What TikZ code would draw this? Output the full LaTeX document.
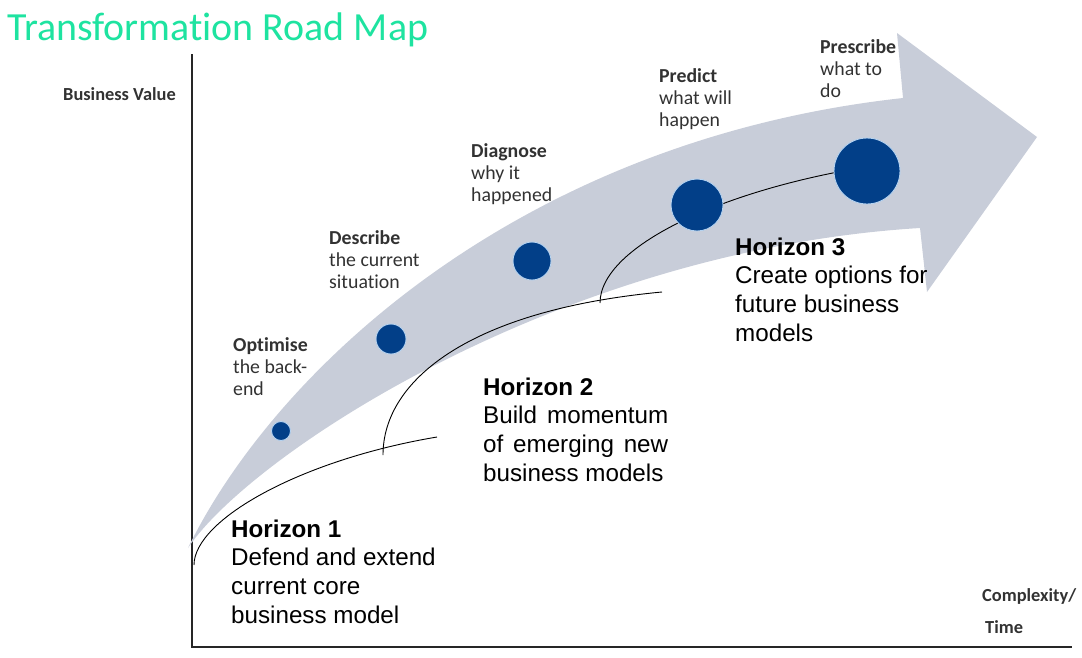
\documentclass[tikz,border=0pt]{standalone}
\usepackage{fontspec}
\setmainfont{Carlito}[Ligatures=NoCommon]
\newfontfamily\arialf{Liberation Sans}
\definecolor{titlegreen}{RGB}{30,227,160}
\definecolor{bandgray}{RGB}{200,205,217}
\definecolor{dotblue}{RGB}{2,63,136}
\definecolor{dotrim}{RGB}{180,210,240}
\definecolor{labelgray}{RGB}{50,50,50}
\newcommand\stk[1]{\begin{tabular}[t]{@{}l@{}}#1\end{tabular}}
\tikzset{
  steplabel/.style={anchor=base west, inner sep=0pt, text=labelgray, font=\fontsize{19.8}{22}\selectfont},
  horizonlabel/.style={anchor=base west, inner sep=0pt, text=black, font=\arialf\fontsize{24.2}{28.8}\selectfont},
  axislabel/.style={anchor=base west, inner sep=0pt, text=labelgray, font=\fontsize{18.4}{22}\selectfont\bfseries},
  dot/.style={circle, fill=dotblue, draw=dotrim, line width=0.9pt, inner sep=0pt},
  hcurve/.style={draw=black, line width=0.9pt},
  axisline/.style={draw=black!85, line width=1.4pt}
}
\begin{document}
\begin{tikzpicture}[x=1pt, y=-1pt]
\useasboundingbox (0,0) rectangle (1082,657);
% title
\node[anchor=base west, inner sep=0pt, text=titlegreen, font=\fontsize{39.9}{46}\selectfont] (title) at (7,40) {Transformation Road Map};
% axes
\coordinate (ytop) at (192,54);
\coordinate (orig) at (192,647);
\coordinate (xend) at (1072,647);
\draw[axisline] (ytop) -- (orig) -- (xend);
\node[axislabel] (yl) at (63,100) {Business Value};
\node[axislabel] (xl1) at (982,601) {Complexity/};
\node[axislabel] (xl2) at (985,633) {Time};
% big curved arrow
\fill[bandgray] (188,548) .. controls (275,370) and (520,140) .. (903,98)
  -- (897,33) -- (1037,137) -- (927,292) -- (920,228)
  .. controls (560,250) and (250,455) .. (188,548) -- cycle;
% horizon curves
\draw[hcurve] (194,565) .. controls (194,520) and (300,460) .. (437,437);
\draw[hcurve] (383,455) .. controls (383,380) and (470,310) .. (662,292);
\draw[hcurve] (600,303) .. controls (600,245) and (730,185) .. (892,163);
% dots
\node[dot, minimum size=19pt] (d1) at (281,431) {};
\node[dot, minimum size=30pt] (d2) at (391,339) {};
\node[dot, minimum size=38pt] (d3) at (532,261) {};
\node[dot, minimum size=52pt] (d4) at (697,205) {};
\node[dot, minimum size=66pt] (d5) at (867,171) {};
% step labels
\node[steplabel] (l1) at (233,351) {\stk{\textbf{Optimise}\\the back-\\end}};
\node[steplabel] (l2) at (329,244) {\stk{\textbf{Describe}\\the current\\situation}};
\node[steplabel] (l3) at (471,157) {\stk{\textbf{Diagnose}\\why it\\happened}};
\node[steplabel] (l4) at (659,82) {\stk{\textbf{Predict}\\what will\\happen}};
\node[steplabel] (l5) at (820,53) {\stk{\textbf{Prescribe}\\what to\\do}};
% horizon labels
\node[horizonlabel] (h1) at (231,537) {\stk{\textbf{Horizon 1}\\Defend and extend\\current core\\business model}};
\node[horizonlabel] (h2) at (483,395) {\stk{\textbf{Horizon 2}\\\makebox[185pt][s]{Build momentum}\\\makebox[185pt][s]{of emerging new}\\business models}};
\node[horizonlabel] (h3) at (735,255) {\stk{\textbf{Horizon 3}\\Create options for\\future business\\models}};
\end{tikzpicture}
\end{document}
